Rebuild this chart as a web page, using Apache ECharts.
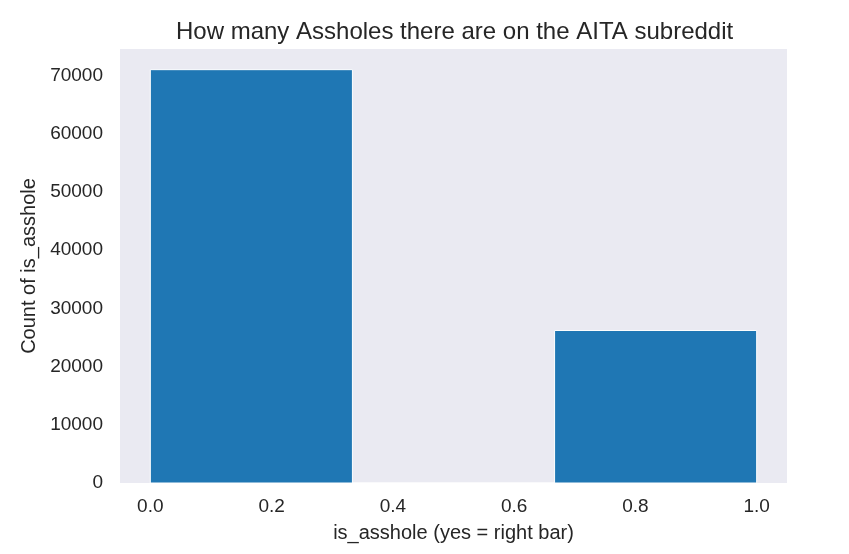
<!DOCTYPE html>
<html>
<head>
<meta charset="utf-8">
<script src="https://cdn.jsdelivr.net/npm/echarts@6/dist/echarts.min.js"></script>
<style>
html,body{margin:0;padding:0;background:#ffffff;}
#chart{width:849px;height:554px;}
</style>
</head>
<body>
<div id="chart"></div>
<script>
// Histogram data (3 bins over 0..1)
var binStarts = [0.0, 0.3333, 0.6667];
var binEnds = [0.3333, 0.6667, 1.0];
var counts = [71000, 0, 26200];
var xTickValues = [0.0, 0.2, 0.4, 0.6, 0.8, 1.0];
var yTickValues = [0, 10000, 20000, 30000, 40000, 50000, 60000, 70000];
var titleText = 'How many Assholes there are on the AITA subreddit';
var xLabel = 'is_asshole (yes = right bar)';
var yLabel = 'Count of is_asshole';

var FONT = "'Liberation Sans', Arial, Helvetica, sans-serif";
var TEXT = '#262626';

var data = binStarts.map(function (s, i) { return [s, binEnds[i], counts[i]]; });
var yMax = Math.max.apply(null, counts) * 1.05;

var chart = echarts.init(document.getElementById('chart'), null, {renderer: 'canvas'});
chart.setOption({
  animation: false,
  backgroundColor: '#ffffff',
  title: {
    text: titleText,
    left: 171,
    top: 15,
    textStyle: {fontFamily: FONT, fontSize: 24, fontWeight: 'normal', color: TEXT}
  },
  grid: {
    left: 120, right: 62, top: 49, bottom: 71,
    show: true, backgroundColor: '#EAEAF2', borderWidth: 0
  },
  xAxis: {
    type: 'value',
    min: -0.05, max: 1.05,
    name: xLabel,
    nameLocation: 'middle',
    nameGap: 40,
    nameTextStyle: {fontFamily: FONT, fontSize: 20, color: TEXT},
    axisLine: {show: false},
    axisTick: {show: false},
    splitLine: {show: false},
    axisLabel: {
      customValues: xTickValues,
      margin: 14,
      fontFamily: FONT, fontSize: 19, color: TEXT,
      formatter: function (v) { return v.toFixed(1); }
    }
  },
  yAxis: {
    type: 'value',
    min: 0, max: yMax,
    name: yLabel,
    nameLocation: 'middle',
    nameGap: 78,
    nameRotate: 90,
    nameTextStyle: {fontFamily: FONT, fontSize: 20, color: TEXT},
    axisLine: {show: false},
    axisTick: {show: false},
    splitLine: {show: false},
    axisLabel: {
      customValues: yTickValues,
      margin: 17,
      fontFamily: FONT, fontSize: 19, color: TEXT,
      formatter: function (v) { return String(Math.round(v)); }
    }
  },
  series: [{
    type: 'custom',
    data: data,
    encode: {x: [0, 1], y: 2},
    renderItem: function (params, api) {
      var p0 = api.coord([api.value(0), api.value(2)]);
      var p1 = api.coord([api.value(1), 0]);
      return {
        type: 'rect',
        shape: {x: p0[0], y: p0[1], width: p1[0] - p0[0], height: p1[1] - p0[1]},
        style: {fill: '#1f77b4', stroke: '#ffffff', lineWidth: 1}
      };
    }
  }]
});
</script>
</body>
</html>
